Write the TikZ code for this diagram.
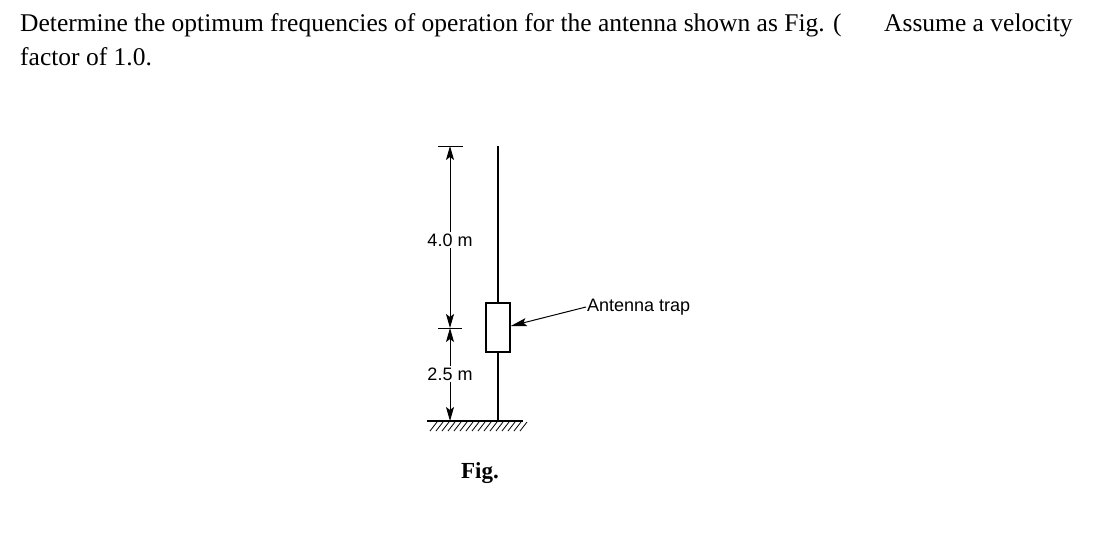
\documentclass[tikz,border=0pt]{standalone}
\usepackage{fontspec}
\setmainfont{Liberation Serif}
\newfontfamily\lab{Liberation Sans}
\usetikzlibrary{arrows.meta}
\begin{document}
\begin{tikzpicture}[x=1pt,y=-1pt,
  dim/.style={-{Stealth[length=14pt,width=8pt,inset=3pt]},line width=1pt},
  lbl/.style={font=\lab\fontsize{18}{20}\selectfont,inner sep=1pt,fill=white},
  txt/.style={font=\fontsize{25.5}{28}\selectfont,anchor=base west,inner sep=0pt}]
\useasboundingbox (0,0) rectangle (1119,547);
\node[txt] (l1) at (20,31) {Determine the optimum frequencies of operation for the antenna shown as Fig. (};
\node[txt] (l2) at (884,31) {Assume a velocity};
\node[txt] (l3) at (20,65) {factor of 1.0.};
% antenna
\coordinate (top) at (498,146);
\coordinate (gnd) at (498,421);
\node[draw,line width=1.5pt,minimum width=24pt,minimum height=49pt,inner sep=0pt] (trap) at (498,327.5) {};
\draw[line width=1.8pt] (top) -- (trap.north);
\draw[line width=1.8pt] (trap.south) -- (gnd);
% ground
\draw[line width=1.8pt] (427,421) -- (523,421);
\foreach \i in {0,...,15} \draw[line width=0.8pt] (430+6*\i,431) -- (437+6*\i,422);
% dimensions
\draw[line width=1pt] (438,146) -- (463,146);
\draw[line width=1pt] (438,328) -- (462,328);
\node[lbl] (d1) at (450,240) {4.0 m};
\node[lbl] (d2) at (450,374) {2.5 m};
\draw[dim] (d1.north) -- (450,146);
\draw[dim] (d1.south) -- (450,328);
\draw[dim] (d2.north) -- (450,328);
\draw[dim] (d2.south) -- (450,421);
% trap label
\node[lbl,anchor=west] (tl) at (586,307) {Antenna trap};
\draw[-{Stealth[length=16pt,width=8pt,inset=3pt]},line width=1pt] (tl.west) -- (trap.east |- 0,326);
\node[font=\bfseries\fontsize{23}{26}\selectfont] (fig) at (480,473) {Fig.};
\end{tikzpicture}
\end{document}
